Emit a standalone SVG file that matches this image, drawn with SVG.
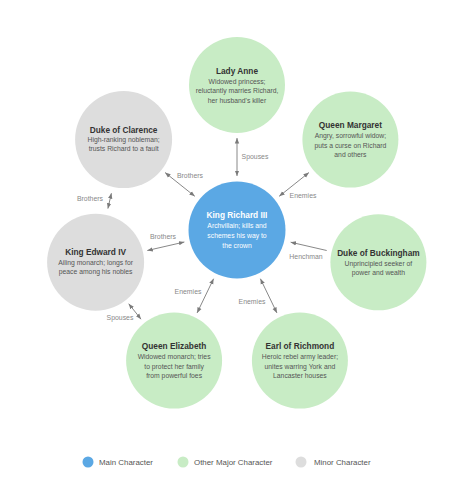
<svg xmlns="http://www.w3.org/2000/svg" width="474" height="481" viewBox="0 0 474 481">
<style>
.main{fill:#5ba8e4}
.major{fill:#c8ecc5}
.minor{fill:#dddddd}
text{font-family:"Liberation Sans",Arial,sans-serif;text-anchor:middle}
.t{font-size:8.3px;font-weight:bold;fill:#333}
.d{font-size:6.8px;fill:#555}
.main-t{font-size:8.3px;font-weight:bold;fill:#fff}
.main-d{font-size:6.8px;fill:#fff}
.lbl{font-size:6.9px;fill:#888}
.leg{font-size:7.9px;fill:#555;text-anchor:start}
.c{stroke:#7a7a7a;stroke-width:0.9;fill:none}
.dbl{marker-start:url(#ah);marker-end:url(#ah)}
</style>
<defs>
<marker id="ah" viewBox="0 0 6 6" refX="6" refY="3" markerWidth="5.5" markerHeight="5.5" markerUnits="userSpaceOnUse" orient="auto-start-reverse">
<path d="M0,0.6 L6,3 L0,5.4 z" fill="#7a7a7a"/>
</marker>
</defs>
<rect width="474" height="481" fill="#fff"/>

<g id="richard">
<circle class="main" cx="237" cy="230" r="48.5"/>
<text class="main-t" x="237" y="218">King Richard III</text>
<text class="main-d" x="237" y="228">Archvillain; kills and</text>
<text class="main-d" x="237" y="238">schemes his way to</text>
<text class="main-d" x="237" y="248">the crown</text>
</g>

<g id="lady-anne">
<circle class="major" cx="237" cy="85" r="48"/>
<text class="t" x="237" y="73.5">Lady Anne</text>
<text class="d" x="237" y="83.5">Widowed princess;</text>
<text class="d" x="237" y="93">reluctantly marries Richard,</text>
<text class="d" x="237" y="102.5">her husband's killer</text>
</g>

<g id="queen-margaret">
<circle class="major" cx="350.4" cy="139.6" r="48"/>
<text class="t" x="350.4" y="128">Queen Margaret</text>
<text class="d" x="350.4" y="138">Angry, sorrowful widow;</text>
<text class="d" x="350.4" y="147.5">puts a curse on Richard</text>
<text class="d" x="350.4" y="157">and others</text>
</g>

<g id="buckingham">
<circle class="major" cx="378.4" cy="262.3" r="48"/>
<text class="t" x="378.4" y="256">Duke of Buckingham</text>
<text class="d" x="378.4" y="265.5">Unprincipled seeker of</text>
<text class="d" x="378.4" y="275">power and wealth</text>
</g>

<g id="richmond">
<circle class="major" cx="299.9" cy="360.6" r="48"/>
<text class="t" x="299.9" y="349">Earl of Richmond</text>
<text class="d" x="299.9" y="359">Heroic rebel army leader;</text>
<text class="d" x="299.9" y="368.5">unites warring York and</text>
<text class="d" x="299.9" y="378">Lancaster houses</text>
</g>

<g id="queen-elizabeth">
<circle class="major" cx="174.1" cy="360.6" r="48"/>
<text class="t" x="174.1" y="349">Queen Elizabeth</text>
<text class="d" x="174.1" y="359">Widowed monarch; tries</text>
<text class="d" x="174.1" y="368.5">to protect her family</text>
<text class="d" x="174.1" y="378">from powerful foes</text>
</g>

<g id="king-edward">
<circle class="minor" cx="95.6" cy="262.3" r="48.5"/>
<text class="t" x="95.6" y="255">King Edward IV</text>
<text class="d" x="95.6" y="264.5">Ailing monarch; longs for</text>
<text class="d" x="95.6" y="274">peace among his nobles</text>
</g>

<g id="duke-clarence">
<circle class="minor" cx="123.6" cy="139.6" r="48.5"/>
<text class="t" x="123.6" y="133">Duke of Clarence</text>
<text class="d" x="123.6" y="142">High-ranking nobleman;</text>
<text class="d" x="123.6" y="151">trusts Richard to a fault</text>
</g>

<g id="connectors">
<line class="c dbl" x1="237" y1="176" x2="237" y2="138"/>
<line class="c dbl" x1="279.2" y1="196.3" x2="308.9" y2="172.6"/>
<line class="c" marker-start="url(#ah)" x1="290.6" y1="242.2" x2="326.7" y2="250.5"/>
<line class="c dbl" x1="260.4" y1="278.7" x2="276.9" y2="312.9"/>
<line class="c dbl" x1="213.6" y1="278.7" x2="197.1" y2="312.9"/>
<line class="c dbl" x1="184.4" y1="242" x2="147.3" y2="250.5"/>
<line class="c dbl" x1="194.8" y1="196.3" x2="165.1" y2="172.6"/>
<line class="c dbl" x1="111.4" y1="193.2" x2="107.9" y2="208.6"/>
<line class="c dbl" x1="128.7" y1="303.7" x2="141" y2="319.2"/>
<text class="lbl" x="255" y="159">Spouses</text>
<text class="lbl" x="190" y="177.5">Brothers</text>
<text class="lbl" x="303" y="197.5">Enemies</text>
<text class="lbl" x="163" y="238.5">Brothers</text>
<text class="lbl" x="306" y="259">Henchman</text>
<text class="lbl" x="188" y="294">Enemies</text>
<text class="lbl" x="252" y="304">Enemies</text>
<text class="lbl" x="90" y="200.5">Brothers</text>
<text class="lbl" x="120" y="320">Spouses</text>
</g>

<g id="legend">
<circle class="main" cx="88" cy="462" r="5.5"/>
<text class="leg" x="99" y="465">Main Character</text>
<circle class="major" cx="183" cy="462" r="5.5"/>
<text class="leg" x="194" y="465">Other Major Character</text>
<circle class="minor" cx="301" cy="462" r="5.5"/>
<text class="leg" x="314" y="465">Minor Character</text>
</g>
</svg>
